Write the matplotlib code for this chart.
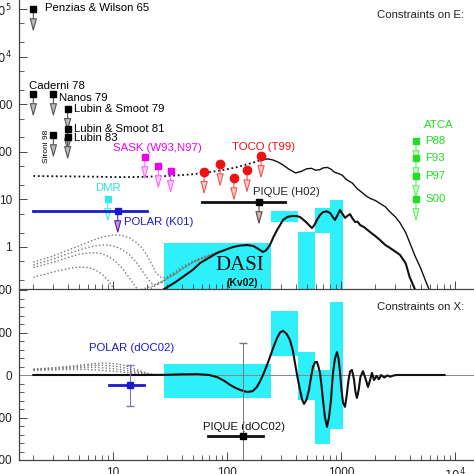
import numpy as np
import matplotlib
matplotlib.use("Agg")
import matplotlib.pyplot as plt
import matplotlib.transforms as mtrans
from matplotlib.ticker import LogLocator, FixedLocator, FixedFormatter, MultipleLocator, NullFormatter

plt.rcParams['font.family'] = ['Liberation Sans', 'DejaVu Sans']

# ---------------- data (upper panel: E) ----------------
old_names = ["Penzias & Wilson 65", "Caderni 78", "Nanos 79", "Lubin & Smoot 79",
             "Lubin & Smoot 81", "Lubin 83", "Sironi 98"]
old_l = [2, 2, 3, 4, 4, 4, 3]
old_v = [1.0e5, 1640, 1640, 800, 300, 205, 225]

sask_l = [19, 25, 32]
sask_v = [78, 50, 40]

toco_l = [63, 87, 115, 150, 199]
toco_v = [38, 55, 28, 41, 82]

pique_e_l, pique_e_lo, pique_e_hi, pique_e_v = 191, 60, 323, 8.8
dmr_l, dmr_v = 9, 10.2
polar_e_l, polar_e_lo, polar_e_hi, polar_e_v = 11, 2, 20, 5.7

atca_names = ["P88", "F93", "P97", "S00"]
atca_l = 4550
atca_v = [169, 74, 31, 10.2]

dasi_edges = [28, 245, 420, 595, 800, 1050]
dasi_e_lo = [0.0, 3.35, 0.0, 1.97, 0.0]
dasi_e_hi = [1.21, 5.7, 2.06, 6.6, 9.7]
dasi_x_lo = [-54, 45, -59, -162, -127]
dasi_x_hi = [26, 150, 54, 12, 172]

# temperature-like model curve (dotted at low l, solid above)
tt_l = [2, 4, 7, 10, 15, 20, 30, 45, 63, 90, 120, 160, 200, 225, 250, 280, 310, 350,
        400, 450, 500, 550, 600, 650, 700, 760, 820, 880, 950, 1030, 1100, 1180, 1260,
        1380, 1500, 1650, 1800, 2000, 2200, 2450, 2700, 3000, 3300, 3700, 4000, 4500,
        4950, 5500, 6000]
tt_v = [31, 30.5, 30, 29.5, 29.5, 30, 31, 33, 36, 41, 47, 57, 67, 71, 68, 61, 53, 43,
        36, 39, 44, 45, 41, 42, 46, 47, 43, 37, 35, 32, 27, 24, 22,
        17, 14.5, 12, 10.5, 9.5, 8.2, 7.0, 5.4, 4.3, 3.2, 2.0, 1.25, 0.62,
        0.38, 0.2, 0.12]
tt_split = 200

# E model curve
ee_l = [28, 35, 41, 50, 58, 70, 82, 100, 113, 130, 150, 170, 183, 195, 207, 220, 238,
        255, 275, 295, 310, 340, 379, 410, 437, 470, 503, 530, 557, 585, 615, 650, 695,
        750, 802, 840, 885, 930, 980, 1030, 1084, 1140, 1200, 1260, 1330, 1400, 1470,
        1600, 1800, 2000, 2200, 2450, 2700, 3000, 3300, 3700, 4000, 4450]
ee_v = [0.13, 0.18, 0.235, 0.33, 0.46, 0.6, 0.75, 0.9, 1.0, 1.07, 1.1, 1.05, 0.95, 0.86,
        0.785, 0.85, 1.1, 1.6, 2.28, 3.0, 3.7, 4.3, 4.5, 4.45, 4.27, 3.7, 3.2, 2.8, 2.5,
        2.9, 3.7, 4.6, 5.4, 5.6, 5.2, 4.4, 3.7, 4.6, 6.0, 5.0, 4.1, 4.5, 4.9, 4.0, 3.35,
        3.4, 2.9, 2.6, 2.06, 1.7, 1.4, 1.1, 0.95, 0.8, 0.68, 0.45, 0.235, 0.13]

# low-l reionization models (gray dotted)
reio_l = [2, 3, 4, 5, 6, 7, 8, 9, 10, 11, 12, 14, 16, 18, 20, 22, 24, 27, 30, 35, 40, 50, 60, 75, 90]
reio_v = [
    [0.48, 0.65, 0.85, 1.05, 1.25, 1.45, 1.6, 1.72, 1.78, 1.79, 1.75, 1.55, 1.25, 0.95, 0.65, 0.42, 0.28, 0.22, 0.24, 0.3, 0.38, 0.5, 0.6, 0.72, 0.85],
    [0.42, 0.56, 0.72, 0.86, 0.98, 1.06, 1.1, 1.1, 1.05, 0.97, 0.88, 0.68, 0.48, 0.32, 0.22, 0.17, 0.16, 0.18, 0.22, 0.28, 0.35, 0.48, 0.58, 0.7, 0.83],
    [0.37, 0.48, 0.6, 0.7, 0.75, 0.76, 0.72, 0.64, 0.55, 0.45, 0.36, 0.22, 0.14, 0.11, 0.12, 0.14, 0.16, 0.19, 0.22, 0.27, 0.34, 0.47, 0.57, 0.7, 0.83],
    [0.23, 0.3, 0.35, 0.38, 0.37, 0.33, 0.27, 0.2, 0.14, 0.1, 0.09, 0.1, 0.11, 0.13, 0.14, 0.15, 0.17, 0.19, 0.22, 0.27, 0.34, 0.47, 0.57, 0.7, 0.83],
]

# ---------------- data (lower panel: X) ----------------
te_l = [2, 10, 20, 30, 40, 55, 70, 82, 95, 106, 118, 130, 150, 168, 183, 195, 207, 222,
        238, 256, 275, 292, 310, 333, 357, 378, 395, 415, 437, 456, 474, 498, 524, 546,
        568, 592, 615, 634, 654, 675, 695, 724, 754, 785, 817, 834, 851, 885, 922, 950,
        980, 1010, 1042, 1084, 1120, 1160, 1200, 1248, 1300, 1340, 1380, 1430, 1480,
        1560, 1640, 1725, 1800, 1870, 1950, 2050, 2150, 2250, 2400, 2550, 2700, 2900,
        3100, 4000, 6000, 8100]
te_v = [0, 0, 0, 0.5, 1.5, 2, 0, -5, -14, -23, -30, -35, -40, -38, -28, -15, 0, 20,
        42, 66, 87, 100, 104, 97, 82, 58, 28, -5, -35, -58, -68, -58, -35, -5,
        19, 30, 31, 20, 5, -25, -59, -100, -122, -100, -59, -25, 5, 38, 54, 40,
        8, -35, -65, -75, -50, -15, 8, 12, -10, -40, -54, -35, -5,
        9, -8, -28, -12, 5, -12, -2, -10, 0, -6, -1, -4, -1,
        0, 0, 0, 0]

reio_te_l = [2, 3, 4, 5, 6, 7, 8, 9, 10, 12, 14, 16, 18, 20, 22, 25]
reio_te_v = [
    [14, 17, 20, 23, 25, 27, 28, 28, 27, 24, 19, 13, 8, 4, 2, 0],
    [13, 16, 18, 20, 22, 23, 23, 22, 21, 18, 14, 9, 6, 3, 1, 0],
    [12, 14, 16, 17, 18, 18, 17, 16, 15, 12, 9, 6, 4, 2, 1, 0],
    [11, 12, 13, 13, 13, 12, 11, 10, 9, 7, 5, 3, 2, 1, 0, 0],
]

polar_x_l, polar_x_lo, polar_x_hi = 14, 9.2, 18.7
polar_x_v, polar_x_err = -24, 48
pique_x_l, pique_x_lo, pique_x_hi = 138, 68, 207
pique_x_v, pique_x_err = -143, 218

xticks = [10, 100, 1000, 10000]
xticklabels = ["10", "100", "1000", r"$10^4$"]
ytick_e = [1, 10, 100, 1000, 1e4, 1e5]
ytick_e_labels = ["1", "10", "100", "1000", r"$10^4$", r"$10^5$"]
ytick_x = [-200, -100, 0, 100, 200]
ytick_x_labels = ["-200", "-100", "0", "100", "200"]

# ---------------- figure ----------------
W = H = 474
fig = plt.figure(figsize=(4.74, 4.74), dpi=100)
L, R = 19, 474
axE = fig.add_axes([L / W, 1 - 289 / H, (R - L) / W, 289 / H])
axX = fig.add_axes([L / W, 1 - 460 / H, (R - L) / W, 170 / H])

XL = (1.497, 14690)
CYAN = '#2ef0fa'
GRID = '#444444'
FS = 8.2

def style(ax):
    ax.set_xscale('log')
    ax.set_xlim(*XL)
    for s in ['top', 'right']:
        ax.spines[s].set_visible(False)
    for s in ['left', 'bottom']:
        ax.spines[s].set_color(GRID)
        ax.spines[s].set_linewidth(0.9)
    ax.xaxis.set_major_locator(FixedLocator(xticks))
    ax.xaxis.set_minor_locator(LogLocator(base=10, subs=np.arange(2, 10)))
    ax.xaxis.set_minor_formatter(NullFormatter())
    ax.tick_params(which='major', direction='in', length=6, width=0.7, color=GRID,
                   labelsize=8.5, labelcolor='#222222', pad=5, top=False, right=False)
    ax.tick_params(which='minor', direction='in', length=3.5, width=0.6, color=GRID,
                   top=False, right=False)
    ax.patch.set_alpha(0)

style(axE)
style(axX)

axE.set_yscale('log')
axE.set_ylim(0.131, 1.55e5)
axE.yaxis.set_major_locator(FixedLocator(ytick_e))
axE.yaxis.set_major_formatter(FixedFormatter(ytick_e_labels))
axE.yaxis.set_minor_locator(LogLocator(base=10, subs=[2, 5]))
axE.yaxis.set_minor_formatter(NullFormatter())
axE.set_xticklabels([])

axX.set_ylim(-200, 200)
axX.yaxis.set_major_locator(FixedLocator(ytick_x))
axX.yaxis.set_major_formatter(FixedFormatter(ytick_x_labels))
axX.yaxis.set_minor_locator(MultipleLocator(20))
axX.set_xticklabels(xticklabels)

def fr(px, py, top=0, h=289):
    return ((px - L) / (R - L), 1 - (py - top) / h)

def txt(ax, px, py, s, top=0, h=289, **kw):
    x, y = fr(px, py, top, h)
    kw.setdefault('fontsize', FS)
    kw.setdefault('va', 'center')
    ax.text(x, y, s, transform=ax.transAxes, **kw)

def down_arrow(ax, x, y, ec, fc, length=16.5, lw=0.8):
    tr = mtrans.offset_copy(ax.transData, fig=fig, x=0, y=-length, units='points')
    ax.annotate('', xy=(x, y), xycoords=tr, xytext=(x, y), textcoords='data',
                arrowprops=dict(arrowstyle='-|>,head_width=0.22,head_length=0.8',
                                ec=ec, fc=fc, lw=lw, shrinkA=0, shrinkB=0),
                zorder=4)

# ---- upper panel ----
for i in range(5):
    lo = dasi_e_lo[i] if dasi_e_lo[i] > 0 else 1e-3
    axE.bar(dasi_edges[i], dasi_e_hi[i] - lo, width=dasi_edges[i + 1] - dasi_edges[i],
            bottom=lo, align='edge', color=CYAN, lw=0, zorder=1)

for v in reio_v:
    axE.plot(reio_l, v, ls=(0, (1, 1.6)), color='#777777', lw=1.0, zorder=2)

tt_l_a = np.array(tt_l); tt_v_a = np.array(tt_v)
m1 = tt_l_a <= tt_split
axE.plot(tt_l_a[m1], tt_v_a[m1], ls=(0, (1, 1.5)), color='#111111', lw=1.3, zorder=3)
axE.plot(tt_l_a[tt_l_a >= tt_split], tt_v_a[tt_l_a >= tt_split], color='#111111', lw=1.0, zorder=3)
axE.plot(ee_l, ee_v, color='#111111', lw=1.5, zorder=3)

for l, v in zip(old_l, old_v):
    down_arrow(axE, l, v, '#555555', '#bbbbbb')
axE.plot(old_l, old_v, 's', color='black', ms=4.5, zorder=5)

for l, v in zip(sask_l, sask_v):
    down_arrow(axE, l, v, '#ff66ff', '#ffccff')
axE.plot(sask_l, sask_v, 's', color='#ee00ee', ms=4.5, zorder=5)

for l, v in zip(toco_l, toco_v):
    down_arrow(axE, l, v, '#ee5555', '#ffcccc')
axE.plot(toco_l, toco_v, 'o', color='#ee1111', ms=6, zorder=5)

axE.plot([pique_e_lo, pique_e_hi], [pique_e_v, pique_e_v], color='#111111', lw=2, zorder=4)
down_arrow(axE, pique_e_l, pique_e_v, '#554444', '#ccbbbb')
axE.plot([pique_e_l], [pique_e_v], 's', color='black', ms=4.5, zorder=5)

down_arrow(axE, dmr_l, dmr_v, '#44eeee', '#ccffff')
axE.plot([dmr_l], [dmr_v], 's', color='#33e8e8', ms=4.5, zorder=5)

axE.plot([polar_e_lo, polar_e_hi], [polar_e_v, polar_e_v], color='#1a1acc', lw=2, zorder=4)
down_arrow(axE, polar_e_l, polar_e_v, '#552299', '#bb99dd')
axE.plot([polar_e_l], [polar_e_v], 's', color='#1a1acc', ms=5, zorder=5)

for v in atca_v:
    down_arrow(axE, atca_l, v, '#66ee66', '#ccffcc')
axE.plot([atca_l] * len(atca_v), atca_v, 's', color='#22dd22', ms=4, zorder=5)

txt(axE, 45, 8, old_names[0])
txt(axE, 29, 86, old_names[1])
txt(axE, 59, 98, old_names[2])
txt(axE, 74, 109, old_names[3])
txt(axE, 74, 129, old_names[4])
txt(axE, 74, 138, old_names[5])
txt(axE, 46, 146, old_names[6], rotation=90, ha='center', fontsize=6)
txt(axE, 113, 148, "SASK (W93,N97)", color='#ee00ee')
txt(axE, 232, 147, "TOCO (T99)", color='#ee1111')
txt(axE, 253, 192, "PIQUE (H02)", color='#222222')
txt(axE, 95, 188, "DMR", color='#33e0e0')
txt(axE, 124, 222, "POLAR (K01)", color='#1a1acc')
txt(axE, 240, 265, "DASI", ha='center', family=['Liberation Serif', 'DejaVu Serif'], fontsize=15, color='#111111')
txt(axE, 242, 283, "(Kv02)", ha='center', fontsize=7.5, fontweight='bold', color='#111111')
txt(axE, 377, 15, "Constraints on E:", color='#222222')
txt(axE, 424, 125, "ATCA", color='#22dd22')
for nm, py in zip(atca_names, [141, 158, 176, 199]):
    txt(axE, 425, py, nm, color='#22dd22')

# ---- lower panel ----
for i in range(5):
    axX.bar(dasi_edges[i], dasi_x_hi[i] - dasi_x_lo[i], width=dasi_edges[i + 1] - dasi_edges[i],
            bottom=dasi_x_lo[i], align='edge', color=CYAN, lw=0, zorder=1)
axX.axhline(0, color='#888888', lw=0.7, zorder=2)
for v in reio_te_v:
    axX.plot(reio_te_l, v, ls=(0, (1, 1.6)), color='#777777', lw=1.0, zorder=2)
axX.plot(te_l, te_v, color='#111111', lw=1.5, zorder=3)

axX.errorbar([polar_x_l], [polar_x_v], yerr=[polar_x_err], fmt='none', ecolor='#7777bb',
             elinewidth=0.8, capsize=3, zorder=4)
axX.plot([polar_x_lo, polar_x_hi], [polar_x_v, polar_x_v], color='#1a1acc', lw=2, zorder=4)
axX.plot([polar_x_l], [polar_x_v], 's', color='#1a1acc', ms=5, zorder=5)

axX.errorbar([pique_x_l], [pique_x_v], yerr=[pique_x_err], fmt='none', ecolor='#777777',
             elinewidth=0.7, capsize=3, zorder=4)
axX.plot([pique_x_lo, pique_x_hi], [pique_x_v, pique_x_v], color='#111111', lw=2, zorder=4)
axX.plot([pique_x_l], [pique_x_v], 's', color='black', ms=4.5, zorder=5)

txt(axX, 89, 348, "POLAR (dOC02)", top=290, h=170, color='#1a1acc')
txt(axX, 203, 427, "PIQUE (dOC02)", top=290, h=170, color='#111111')
txt(axX, 377, 307, "Constraints on X:", top=290, h=170, color='#222222')

fig.savefig('out.png', dpi=100)
